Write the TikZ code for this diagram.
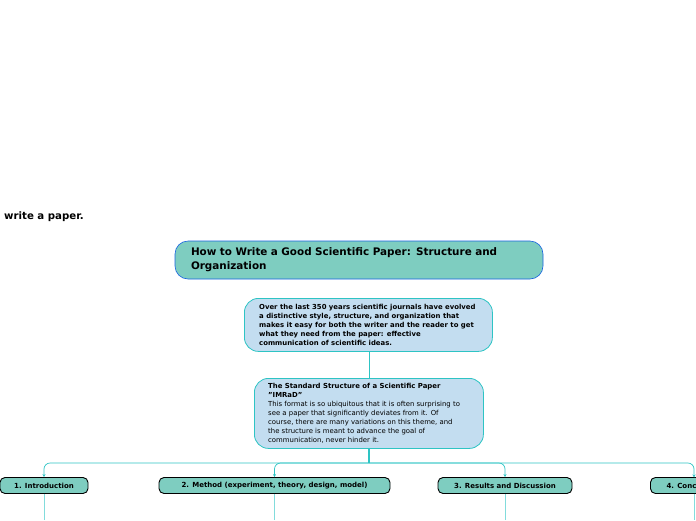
\documentclass[tikz,border=0pt]{standalone}
\usepackage{fontspec}
\setmainfont{DejaVu Sans}
\usetikzlibrary{arrows.meta}
\definecolor{teal1}{HTML}{7ECDC0}
\definecolor{blue1}{HTML}{C3DDF0}
\definecolor{line1}{HTML}{2EC4C4}
\begin{document}
\begin{tikzpicture}[x=1pt,y=-1pt,
 topic/.style={draw=line1,fill=blue1,rounded corners=14pt,line width=0.8pt,anchor=north west,inner sep=0pt},
 child/.style={draw=black,fill=teal1,rounded corners=5pt,line width=0.9pt,minimum height=16pt,inner sep=0pt,font=\fontsize{7}{8}\selectfont\bfseries},
 conn/.style={draw=line1,line width=0.8pt},
 br/.style={draw=line1,line width=0.7pt,rounded corners=6pt,-{Stealth[length=3pt,width=3pt]}},
 stub/.style={draw=line1!60,line width=0.5pt}]
\useasboundingbox (0,0) rectangle (696,520);
\node[anchor=west,font=\fontsize{10.2}{11}\selectfont\bfseries,inner sep=0pt] (w) at (4,217) {write a paper.};
\node[draw=line1!50!blue,fill=teal1,rounded corners=13pt,line width=0.6pt,minimum width=368pt,minimum height=38pt,text width=336pt,align=left,inner sep=0pt,font=\fontsize{10.4}{14}\selectfont\bfseries] (t) at (359,260) {How to Write a Good Scientific Paper: Structure and\\Organization};
\node[topic,minimum width=248pt,minimum height=53pt] (a) at (244,298) {};
\node[anchor=north west,align=left,font=\fontsize{6.9}{9}\selectfont\bfseries,inner sep=0pt] at (259,304.5) {Over the last 350 years scientific journals have evolved\\a distinctive style, structure, and organization that\\makes it easy for both the writer and the reader to get\\what they need from the paper: effective\\communication of scientific ideas.};
\node[topic,minimum width=229pt,minimum height=70pt] (b) at (254,378) {};
\node[anchor=north west,align=left,font=\fontsize{6.9}{9}\selectfont,inner sep=0pt] at (268,383.5) {\textbf{The Standard Structure of a Scientific Paper}\\\textbf{"IMRaD"}\\This format is so ubiquitous that it is often surprising to\\see a paper that significantly deviates from it. Of\\course, there are many variations on this theme, and\\the structure is meant to advance the goal of\\communication, never hinder it.};
\draw[conn] (369,351) -- (369,378);
\coordinate (j) at (369,463);
\draw[conn,line width=1.2pt] (369,448) -- (j);
\node[child,minimum width=88pt] (c1) at (44,485.5) {1. Introduction};
\node[child,minimum width=231pt] (c2) at (274.5,485.5) {2. Method (experiment, theory, design, model)};
\node[child,minimum width=134pt] (c3) at (505,485.5) {3. Results and Discussion};
\node[child,minimum width=90pt,anchor=west] (c4) at (650,485.5) {4. Conclusions};
\draw[br] (j) -| (c1.north);
\draw[br] (j) -| (c2.north);
\draw[br] (j) -| (c3.north);
\draw[br] (j) -| (694,477.5);
\draw[stub] (c1.south) -- (44,520);
\draw[stub] (c2.south) -- (274.5,520);
\draw[stub] (c3.south) -- (505,520);
\draw[stub] (694,493.5) -- (694,520);
\end{tikzpicture}
\end{document}
